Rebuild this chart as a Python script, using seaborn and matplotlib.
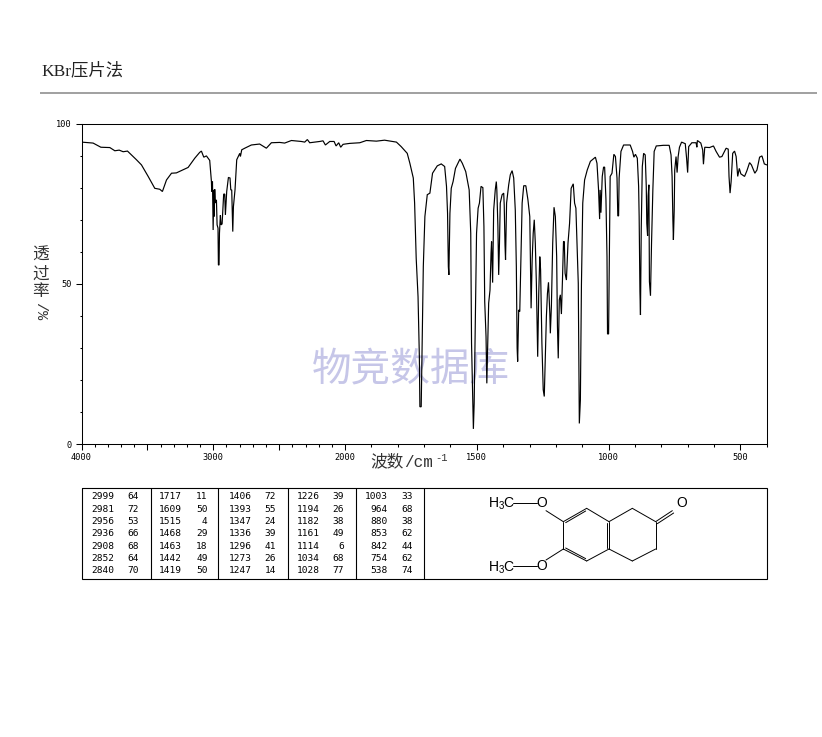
import numpy as np
import pandas as pd
import matplotlib
matplotlib.use("Agg")
import matplotlib.pyplot as plt
import seaborn as sns

wavenumber = [4000,3912,3853,3785,3747,3714,3684,3651,3583,3545,3494,3444,3406,3386,3355,3317,3280,3191,3140,3103,3090,3072,3052,3027,3014,3012,3006,3001,2996,2994,2989,2984,2976,2971,2964,2961,2956,2953,2946,2941,2933,2921,2913,2908,2898,2885,2873,2867,2860,2852,2847,2835,2822,2799,2794,2784,2761,2711,2648,2597,2559,2496,2458,2407,2332,2306,2286,2268,2192,2167,2149,2116,2083,2068,2048,2033,2015,2000,
1982,1944,1919,1881,1850,1805,1787,1764,1754,1741,1736,1730,1723,1718,1716,1711,1708,1703,1697,1688,1678,1668,1650,1635,1622,1615,1611,1608,1606,1602,1597,1590,1581,1564,1555,1542,1529,1523,1520,1515,1513,1510,1506,1501,1495,1490,1484,1477,1473,1470,1465,1462,1458,1455,1450,1446,1444,1440,1436,1430,1426,1424,1420,1417,1414,1411,1404,1398,1396,1393,1391,1387,1379,1373,1366,1360,1354,1350,1347,1345,1341,1337,1333,1328,1322,1314,1306,1299,1294,1290,1286,1282,1278,1274,1269,1265,1261,1258,1253,1248,1244,1240,1236,1232,1228,1223,1221,1217,1212,1207,1202,1197,1194,1191,1187,1183,1179,1175,1171,1168,1165,1160,1154,1148,1142,1134,1129,1124,1119,1115,1111,1107,1103,1098,1091,1081,1069,1050,1044,1038,1034,1032,1029,1024,1019,1015,1010,1006,1004,1000,997,994,987,980,974,968,965,962,960,953,943,918,909,904,898,891,886,884,881,879,876,872,867,861,857,855,852,850,847,845,841,837,832,827,819,792,770,763,759,756,754,751,749,744,740,736,731,723,709,704,700,696,684,668,665,663,650,643,640,635,617,602,592,579,570,554,546,543,539,535,529,522,516,510,504,498,484,475,465,458,445,437,427,418,409,400]
transmittance = [94.2,93.9,92.6,92.5,91.5,91.7,91.2,91.4,88.7,87.1,83.5,79.8,79.5,78.8,82.4,84.5,84.6,86.3,89.2,91.0,91.4,89.5,89.9,88.5,81.9,78.8,81.9,66.8,79.3,71,79.5,75.2,76.2,68.4,67.4,55.9,55.9,65.8,71.4,68.4,68.7,78,78,71.5,78.8,83.2,83,79.3,79.3,66.3,74.1,79.3,88.7,90.7,89.7,91.8,92.3,93.3,93.6,92.3,94,94.1,93.9,94.7,94.4,94.2,95,94,94.4,94.6,93.3,94.4,94.4,93,94,92.6,93.5,93.6,
93.8,94,94.7,94.5,94.8,94.2,92.8,90.7,87.6,83,75.2,58,46,27.3,11.7,11.7,27.3,55.4,71,77.8,78.3,84.5,86.8,87.4,86.6,80.4,72,55.4,52.8,72,79.8,81.9,86,88.9,87.6,85,79.3,65.8,31.5,12.8,4.8,12.8,35.7,65.8,73.6,75.2,80.4,80,67.9,44.5,33.6,19,33.6,44,48,59.6,63.2,50.4,73,79.3,81.9,79.3,68,52.8,62.7,75.2,77.8,78.3,74.6,62.2,57.5,75.2,80.9,84,85.3,83,73,55.4,30,25.8,41.9,41.4,56.4,75.2,80.6,80.6,76.2,71,42.4,57.5,65.8,70,62.7,50.2,27.3,47,58.5,54.4,31.5,17,14.9,27.3,39.8,47,50.5,40.9,34.6,43,62.7,73.9,71,58.5,36.7,26.8,45,46.6,40.6,51.2,63.2,63.2,53.3,51.2,62.7,68.9,79.8,81.2,75.2,73.6,60.6,50.2,6.5,13.8,49.7,75.2,82.4,85.5,88.2,89.5,87.6,79.3,70.2,79.3,72.2,83.5,86.4,86.4,76.4,58.5,34.4,34.4,59.6,83.5,84.5,90.4,89.7,83,71.2,71.2,83,91.3,93.3,93.3,91.3,89.5,90.4,89.2,80.4,71,47.6,40.3,67.4,86.6,90.7,90.2,80.4,68.9,65,77.4,80.9,50.7,46.3,62.7,79.3,91.3,93,93.2,93.2,90.2,83.5,70,63.7,73,85.5,89.7,84.7,89.7,92.6,94.2,93.7,89.2,84.7,92.8,94,94,92.6,94.7,93.9,91.8,87.3,92.6,92.5,93,91.3,89.5,89.7,92.3,92,83.5,78.3,81.9,90.7,91.4,89.7,83.5,86,84.3,83.5,85.3,87.8,87.1,84.5,85.5,89.5,89.9,87.4,87.1]

x_major = [4000,3500,3000,2500,2000,1500,1000,500]
x_major_labels = ["4000","","3000","","2000","1500","1000","500"]
y_major = [0,50,100]
y_major_labels = ["0","50","100"]

peak_wavenumbers = [["2999","2981","2956","2936","2908","2852","2840"],
                    ["1717","1609","1515","1468","1463","1442","1419"],
                    ["1406","1393","1347","1336","1296","1273","1247"],
                    ["1226","1194","1182","1161","1114","1034","1028"],
                    ["1003","964","880","853","842","754","538"]]
peak_transmittance = [["64","72","53","66","68","64","70"],
                      ["11","50","4","29","18","49","50"],
                      ["72","55","24","39","41","26","14"],
                      ["39","26","38","49","6","68","77"],
                      ["33","68","38","62","44","62","74"]]

sns.set_style("white")
plt.rcParams["mathtext.default"] = "regular"
W, H = 822, 737
fig = plt.figure(figsize=(W/100, H/100), dpi=100, facecolor="white")

CJK = ["Noto Sans CJK SC", "DejaVu Sans"]
MONO = "DejaVu Sans Mono"

bg = fig.add_axes([0, 0, 1, 1], zorder=0)
bg.set_xlim(0, W); bg.set_ylim(H, 0); bg.axis("off")

bg.text(411, 369, "物竞数据库", family=CJK, fontsize=28.5, color="#c6c6e8", ha="center", va="center")

l, r, t, b = 81.5, 766.7, 123.5, 444.3
ax = fig.add_axes([l/W, 1-b/H, (r-l)/W, (b-t)/H], zorder=2)
ax.patch.set_alpha(0)

def fwd(w):
    w = np.asarray(w, dtype=float)
    return np.where(w >= 2000, w/2 + 1000, w)
def inv(p):
    p = np.asarray(p, dtype=float)
    return np.where(p >= 2000, (p-1000)*2, p)

ax.set_xscale("function", functions=(fwd, inv))
df = pd.DataFrame({"wavenumber": wavenumber, "T": transmittance})
sns.lineplot(data=df, x="wavenumber", y="T", sort=False, estimator=None,
             color="black", linewidth=0.85, ax=ax, antialiased=True, solid_joinstyle="miter")
ax.set_xlim(4000, 400)
ax.set_ylim(0, 100)
ax.set_xlabel(""); ax.set_ylabel("")
ax.set_xticks(x_major, x_major_labels, family=MONO, fontsize=6.2)
ax.set_xticks([w for w in range(400, 4000, 100) if w not in x_major], minor=True)
ax.set_yticks(y_major, y_major_labels, family=MONO, fontsize=6.2)
ax.set_yticks([v for v in range(0, 100, 10) if v not in y_major], minor=True)
ax.tick_params(axis="x", which="major", bottom=True, length=4, width=0.75, pad=2, color="black", labelcolor="black")
ax.tick_params(axis="x", which="minor", bottom=True, length=2, width=0.75, color="black")
ax.tick_params(axis="y", which="major", left=True, length=4, width=0.75, pad=3, color="black", labelcolor="black")
ax.tick_params(axis="y", which="minor", left=True, length=1.5, width=0.75, color="black")
for s in ax.spines.values():
    s.set_visible(True); s.set_color("black"); s.set_linewidth(0.75)

bg.text(41, 71, "KBr压片法", family=["Liberation Serif", "Noto Sans CJK SC"], fontsize=12.5,
        color="#222222", ha="left", va="center")
bg.plot([40, 817], [92.5, 92.5], color="#999999", lw=1.3, solid_capstyle="butt")

for ch, y in zip("透过率", [255, 274, 291.5]):
    bg.text(40.5, y, ch, family=CJK, fontsize=12, color="#333333", ha="center", va="center")
bg.text(40.5, 311, "/%", family="Liberation Mono", fontsize=11, color="#333333", ha="center", va="center", rotation=-90)
bg.text(370, 462, "波数", family=CJK, fontsize=12, color="#333333", ha="left", va="center")
bg.text(404, 462, "/cm", family="Liberation Mono", fontsize=11.5, color="#333333", ha="left", va="center")
bg.text(435, 458, "-1", family="Liberation Mono", fontsize=7.5, color="#333333", ha="left", va="center")

tbl = fig.add_axes([0, 0, 1, 1], zorder=1)
tbl.set_xlim(0, W); tbl.set_ylim(H, 0); tbl.axis("off")
tbl.plot([81.5, 766.7, 766.7, 81.5, 81.5], [487.5, 487.5, 579, 579, 487.5], color="black", lw=0.8, solid_joinstyle="miter")
for x in [150.7, 218.3, 287.7, 355.7, 424.3]:
    tbl.plot([x, x], [487.5, 579], color="black", lw=0.8)
xw = [114.3, 182.3, 251.7, 320, 387.7]
xt = [139, 207.7, 276, 344, 413.3]
for c in range(5):
    for i in range(7):
        y = 496.7 + i*12.33
        tbl.text(xw[c], y, peak_wavenumbers[c][i], family=MONO, fontsize=6.8, ha="right", va="center", color="black")
        tbl.text(xt[c], y, peak_transmittance[c][i], family=MONO, fontsize=6.8, ha="right", va="center", color="black")

def P(z, y):
    return 420 + z/3, 480 + y/3
bonds = [((280,70),(350,70)), ((378,92),(430,125)), ((280,258),(350,258)), ((378,240),(430,207)),
         ((430,125),(500,85)), ((500,85),(567,125)), ((567,125),(567,207)), ((567,207),(500,243)),
         ((500,243),(430,207)), ((430,207),(430,125)),
         ((437,128),(497,93)), ((560,128),(560,205)), ((437,204),(497,236)),
         ((567,125),(637,85)), ((637,85),(707,125)), ((707,125),(707,207)), ((707,207),(637,243)), ((637,243),(567,207)),
         ((707,125),(757,92)), ((712,131),(761,99))]
for a, b_ in bonds:
    (x0, y0), (x1, y1) = P(*a), P(*b_)
    tbl.plot([x0, x1], [y0, y1], color="black", lw=0.7)
SANS = "Liberation Sans"
for (zx, zy, s, ha) in [(203, 72, "H$_3$C", "left"), (203, 264, "H$_3$C", "left"),
                        (365, 70, "O", "center"), (365, 258, "O", "center"), (785, 68, "O", "center")]:
    px, py = P(zx, zy)
    tbl.text(px, py, s, family=SANS, fontsize=10, ha=ha, va="center", color="black")

fig.savefig("out.png", dpi=100, facecolor="white")
